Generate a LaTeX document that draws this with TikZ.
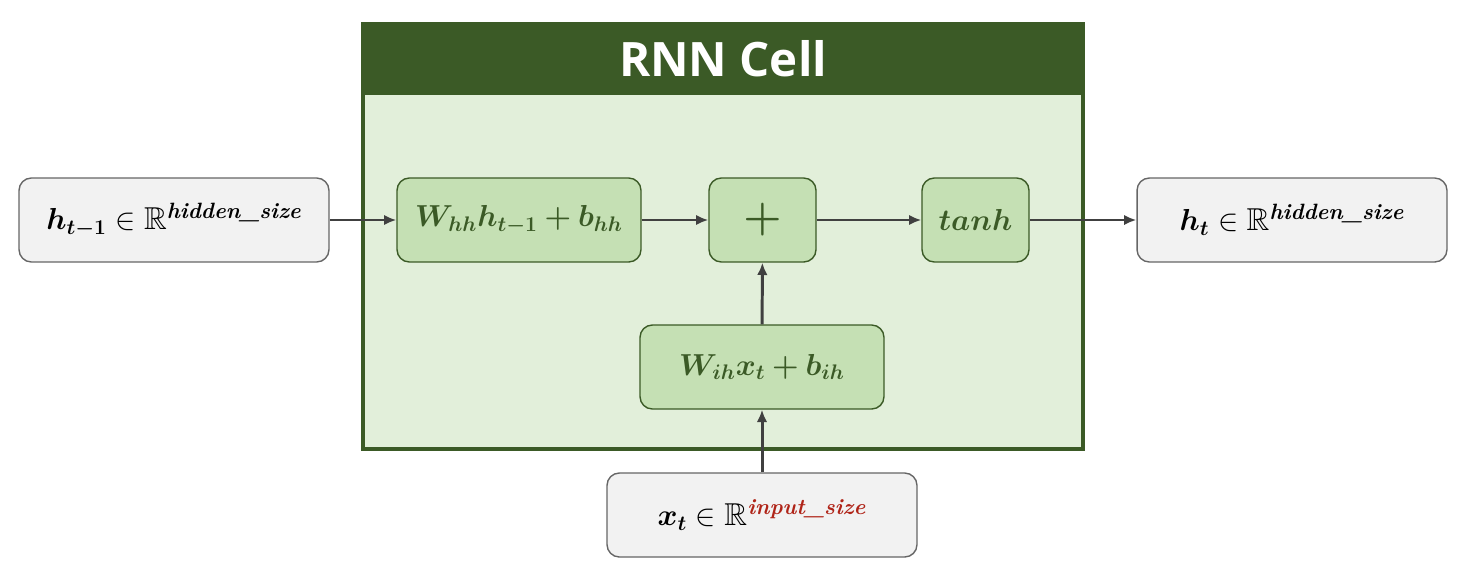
\documentclass[tikz,border=0pt]{standalone}
\usepackage{amsmath,amssymb,bm}
\usepackage{fontspec}
\usetikzlibrary{arrows.meta}
\newfontfamily\hdr{Open Sans}
\definecolor{dg}{HTML}{3B5A26}
\definecolor{lg}{HTML}{E2EFDA}
\definecolor{mg}{HTML}{C5E0B4}
\definecolor{ag}{HTML}{404040}
\definecolor{rd}{HTML}{B02418}
\begin{document}
\begin{tikzpicture}[x=0.02cm,y=-0.02cm,
 base/.style={rounded corners=7pt,line width=0.8pt,minimum height=1.68cm,inner sep=0pt,font=\fontsize{18}{20}\selectfont},
 gbox/.style={base,draw=black!60,fill=black!5,minimum width=6.2cm},
 cbox/.style={base,draw=dg,fill=mg,text=dg},
 arr/.style={draw=ag,line width=1.7pt,-{Latex[length=7pt,width=6pt]}}]
\useasboundingbox (0,0) rectangle (1469,575);
\fill[lg] (362,23) rectangle (1084,450);
\fill[dg] (362,23) rectangle (1084,95);
\draw[dg,line width=2.2pt] (363,24) rectangle (1083,449);
\node[text=white,font=\hdr\bfseries\fontsize{27}{30}\selectfont] (title) at (723,59) {RNN Cell};
\node[gbox] (hp) at (174,220) {$\bm{h_{t-1}}\in\mathbb{R}^{\textbf{\textit{hidden\_size}}}$};
\node[gbox] (ht) at (1292,220) {$\bm{h_{t}}\in\mathbb{R}^{\textbf{\textit{hidden\_size}}}$\hspace{0.6cm}};
\node[gbox] (xt) at (762,515) {$\bm{x_{t}}\in\mathbb{R}^{\textcolor{rd}{\textbf{\textit{input\_size}}}}$};
\node[cbox,minimum width=4.88cm] (whh) at (519,220) {$\bm{W_{hh}h_{t-1}+b_{hh}}$};
\node[cbox,minimum width=2.14cm,font=\fontsize{34}{36}\selectfont] (plus) at (762.5,220) {$\bm{+}$};
\node[cbox,minimum width=2.14cm] (tanh) at (975.5,220) {$\bm{tanh}$};
\node[cbox,minimum width=4.88cm] (wih) at (762,367) {$\bm{W_{ih}x_{t}+b_{ih}}$};
\draw[arr] (hp)--(whh); \draw[arr] (whh)--(plus); \draw[arr] (plus)--(tanh);
\draw[arr] (tanh)--(ht); \draw[arr] (wih)--(plus); \draw[arr] (xt)--(wih);
\end{tikzpicture}
\end{document}
